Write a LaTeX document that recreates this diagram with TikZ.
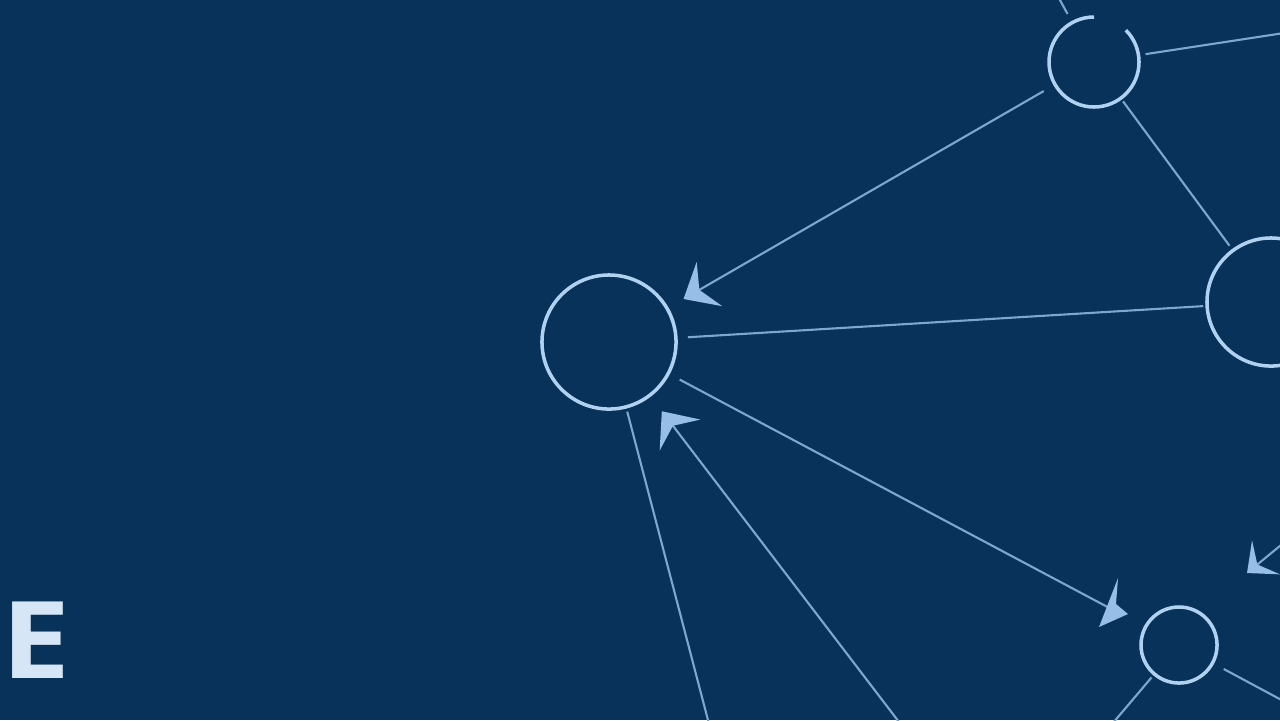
\documentclass[tikz,border=0pt]{standalone}
\usepackage{fontspec}
\newfontfamily\labelfont{Open Sans}
\usetikzlibrary{arrows.meta}
\definecolor{bgnavy}{RGB}{8,50,89}
\definecolor{ringblue}{RGB}{176,210,240}
\definecolor{edgeblue}{RGB}{126,166,206}
\definecolor{tipblue}{RGB}{150,190,230}
\definecolor{letterblue}{RGB}{214,230,246}
\tikzset{
  ring/.style={circle, draw=ringblue, line width=1pt, inner sep=0pt, outer sep=0pt},
  ghostring/.style={circle, draw=none, inner sep=0pt, outer sep=0pt},
  edge/.style={draw=edgeblue, line width=0.6pt},
  bigtip/.style={-{Stealth[length=8.5pt, width=14.5pt, inset=3.3pt, fill=tipblue, color=tipblue]}},
  smalltip/.style={-{Stealth[length=7pt, width=12.5pt, inset=3.2pt, fill=tipblue, color=tipblue]}},
}
\begin{document}
\begin{tikzpicture}[x=0.01cm, y=-0.01cm]
\useasboundingbox (0,0) rectangle (1280,720);
\fill[bgnavy] (0,0) rectangle (1280,720);
\clip (0,0) rectangle (1280,720);

% nodes
\node[ring, minimum size=1.34cm] (C) at (609,342) {};
\node[ghostring, minimum size=0.90cm] (T) at (1094,62) {};
\node[ring, minimum size=1.28cm] (R) at (1271,302) {};
\node[ring, minimum size=0.76cm] (B) at (1179,645) {};
% open ring T with gap at the top right
\draw[ringblue, line width=1pt] (T.center) ++(0,-45) arc[start angle=-90, end angle=-405, radius=45];

% off-screen ends
\coordinate (tl) at (1050,-18);
\coordinate (tr) at (1330,26);
\coordinate (cb) at (720,766);
\coordinate (ba) at (928,760);
\coordinate (bl) at (1090,750);
\coordinate (br) at (1330,726);
\coordinate (rs) at (1332,503);
\coordinate (rt) at (1247,573);

% connectors
\draw[edge, bigtip, shorten <=3.7pt, shorten >=5.4pt] (T) -- (C);
\draw[edge, shorten <=3.4pt, shorten >=1.1pt] (C) -- (R);
\draw[edge, shorten <=3.7pt, shorten >=11.7pt] (C) -- (B);
\draw[edge, shorten <=1.4pt] (C) -- (cb);
\draw[edge, bigtip, shorten >=5.7pt] (ba) -- (C);
\draw[edge, shorten <=1.1pt, shorten >=1.7pt] (T) -- (R);
\draw[edge, shorten <=2pt] (T) -- (tr);
\draw[edge, shorten <=2.8pt] (T) -- (tl);
\draw[edge, shorten <=1.3pt] (B) -- (bl);
\draw[edge, shorten <=3.6pt] (B) -- (br);
\draw[edge, smalltip] (rs) -- (rt);

% turning arrow head near B
\fill[tipblue] (1099,627) -- (1118,578) -- (1116,604) -- (1128,614) -- cycle;

% letter
\node[anchor=base west, inner sep=0pt, text=letterblue, xscale=1.15]
  (E) at (1,678) {\labelfont\bfseries\fontsize{30.5pt}{30.5pt}\selectfont E};
\end{tikzpicture}
\end{document}
